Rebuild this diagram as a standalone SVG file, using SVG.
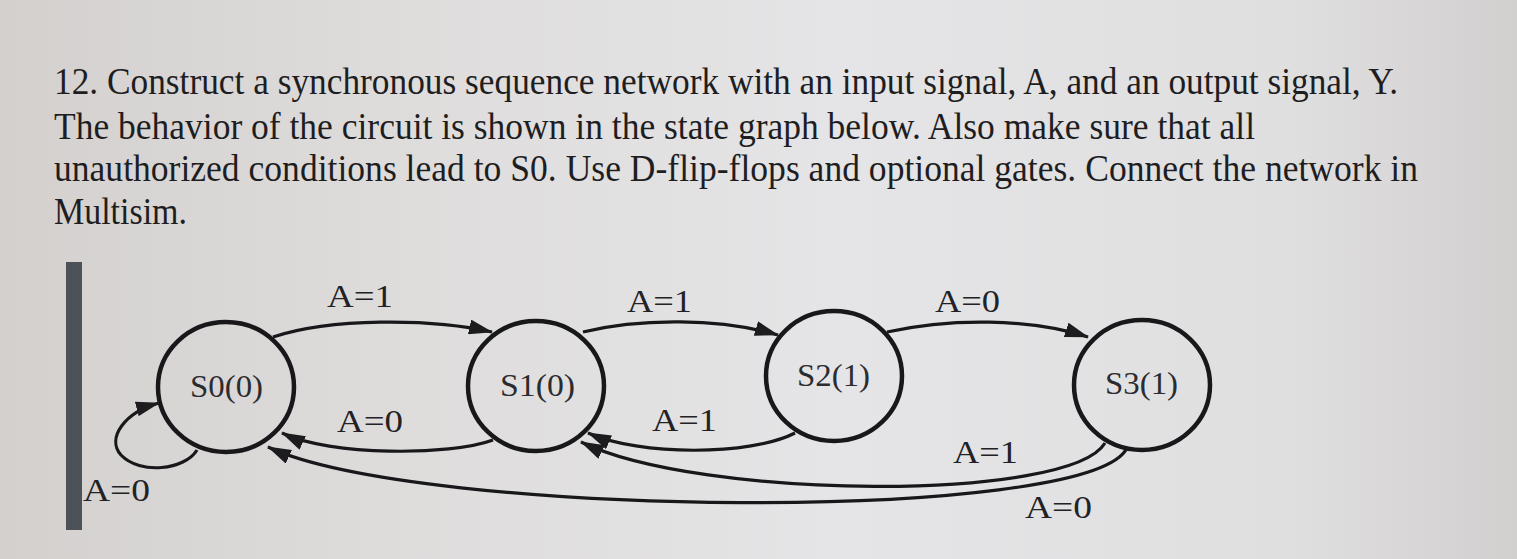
<svg xmlns="http://www.w3.org/2000/svg" width="1517" height="559" viewBox="0 0 1517 559">
<defs>
<linearGradient id="bg" x1="0" y1="0" x2="1" y2="0">
<stop offset="0" stop-color="#d3d0ce"/>
<stop offset="0.25" stop-color="#dedcdb"/>
<stop offset="0.55" stop-color="#e5e4e6"/>
<stop offset="0.85" stop-color="#e0dfe0"/>
<stop offset="1" stop-color="#d2cfcf"/>
</linearGradient>
<marker id="arr" markerUnits="userSpaceOnUse" markerWidth="24" markerHeight="15" refX="23" refY="7.5" orient="auto">
<path d="M0,0 L24,7.5 L0,15 z" fill="#1c1c1e"/>
</marker>
<style>
.q{font-family:"Liberation Serif","Times New Roman",serif;font-size:37px;fill:#1e1e22}
.n{font-family:"Liberation Serif","Times New Roman",serif;font-size:32px;fill:#2a2c30}
.e{font-family:"Liberation Serif","Times New Roman",serif;font-size:32px;fill:#222226}
.st{fill:none;stroke:#18181b;stroke-width:4.5}
.c{fill:none;stroke:#18181b;stroke-width:3.2;marker-end:url(#arr)}
</style>
</defs>
<rect x="0" y="0" width="1517" height="559" fill="url(#bg)"/>
<g id="question">
<text class="q" x="54" y="94" textLength="1344" lengthAdjust="spacingAndGlyphs">12. Construct a synchronous sequence network with an input signal, A, and an output signal, Y.</text>
<text class="q" x="54" y="139" textLength="1201" lengthAdjust="spacingAndGlyphs">The behavior of the circuit is shown in the state graph below. Also make sure that all</text>
<text class="q" x="54" y="181" textLength="1364" lengthAdjust="spacingAndGlyphs">unauthorized conditions lead to S0. Use D-flip-flops and optional gates. Connect the network in</text>
<text class="q" x="54" y="224" textLength="133" lengthAdjust="spacingAndGlyphs">Multisim.</text>
</g>
<rect id="bar" x="66" y="262" width="16" height="268" fill="#4d5158"/>
<g id="connectors">
<path class="c" d="M273,337 C330,318 430,318 492,332"/>
<path class="c" d="M583,332 C640,318 720,318 778,335"/>
<path class="c" d="M887,332 C950,318 1030,318 1088,337"/>
<path class="c" d="M493,440 C450,456 330,456 282,433"/>
<path class="c" d="M795,433 C750,456 640,456 588,433"/>
<path class="c" d="M1105,443 C1070,502 700,500 581,442"/>
<path class="c" d="M1127,448 C1090,524 420,518 268,447"/>
<path class="c" d="M197,450 C185,470 140,475 121,455 C106,438 125,412 159,403"/>
</g>
<g id="edge-labels">
<text class="e" x="327" y="307" textLength="66" lengthAdjust="spacingAndGlyphs">A=1</text>
<text class="e" x="337" y="432" textLength="66" lengthAdjust="spacingAndGlyphs">A=0</text>
<text class="e" x="627" y="312" textLength="65" lengthAdjust="spacingAndGlyphs">A=1</text>
<text class="e" x="652" y="431" textLength="65" lengthAdjust="spacingAndGlyphs">A=1</text>
<text class="e" x="935" y="312" textLength="65" lengthAdjust="spacingAndGlyphs">A=0</text>
<text class="e" x="953" y="463" textLength="65" lengthAdjust="spacingAndGlyphs">A=1</text>
<text class="e" x="1025" y="518" textLength="67" lengthAdjust="spacingAndGlyphs">A=0</text>
<text class="e" x="83" y="501" textLength="67" lengthAdjust="spacingAndGlyphs">A=0</text>
</g>
<g id="S0">
<ellipse class="st" cx="226" cy="387" rx="68" ry="65"/>
<text class="n" x="190" y="397" textLength="73" lengthAdjust="spacingAndGlyphs">S0(0)</text>
</g>
<g id="S1">
<ellipse class="st" cx="536" cy="386" rx="68" ry="65"/>
<text class="n" x="500" y="396" textLength="75" lengthAdjust="spacingAndGlyphs">S1(0)</text>
</g>
<g id="S2">
<ellipse class="st" cx="834" cy="376" rx="68" ry="65"/>
<text class="n" x="797" y="386" textLength="73" lengthAdjust="spacingAndGlyphs">S2(1)</text>
</g>
<g id="S3">
<ellipse class="st" cx="1142" cy="385" rx="68" ry="65"/>
<text class="n" x="1105" y="394" textLength="73" lengthAdjust="spacingAndGlyphs">S3(1)</text>
</g>
</svg>
